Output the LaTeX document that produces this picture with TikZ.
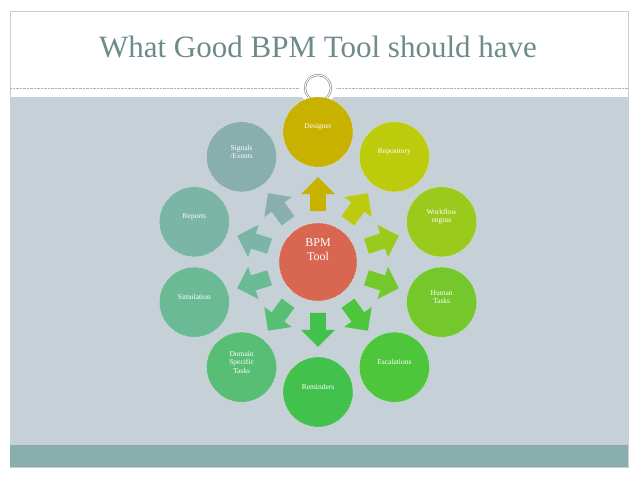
\documentclass[tikz,border=0pt]{standalone}
\usepackage{fontspec}
\setmainfont{Liberation Serif}
\usetikzlibrary{shapes.arrows,calc}
\definecolor{bgc}{HTML}{C6D1D7}
\definecolor{strip}{HTML}{8AADAD}
\definecolor{titc}{HTML}{6F8A8A}
\tikzset{
 sat/.style={circle,minimum size=70pt,inner sep=0pt,draw=white!85!gray,densely dotted,line width=0.5pt,text=white,font=\fontsize{7.5}{8.5}\selectfont,align=center},
 arr/.style={single arrow,minimum height=34pt,minimum width=34pt,single arrow head extend=6pt,inner sep=5pt}
}
\begin{document}
\begin{tikzpicture}[x=1pt,y=-1pt]
\useasboundingbox (0,0) rectangle (638,478);
\fill[white] (0,0) rectangle (638,478);
\draw[gray!40] (10,11) rectangle (628,467);
\fill[bgc] (10,97) rectangle (628,445);
\fill[strip] (10,445) rectangle (628,467);
\draw[gray!60,densely dotted] (10,88) -- (628,88);
\node[font=\fontsize{31}{34}\selectfont,text=titc] (title) at (318,47) {What Good BPM Tool should have};
\node[circle,fill=white,minimum size=36pt] (orn) at (318,88) {};
\node[circle,draw=gray,line width=0.6pt,minimum size=26pt,double=white,double distance=1pt] (orn2) at (318,88) {};
\coordinate (c) at (318,262);
\node[sat,minimum size=78pt,fill={rgb,255:red,217;green,102;blue,80},font=\fontsize{12}{14}\selectfont] (bpm) at (c) {BPM\\Tool\\[10pt]};
\foreach \name/\ang/\col/\txt in {
 des/90/C9B100/Designer,
 rep/54/BCCC0C/Repository,
 wf/18/9ACB1C/{Workflow\\engine},
 ht/-18/74C82C/{Human\\Tasks},
 esc/-54/4EC63C/Escalations,
 rem/-90/42C24C/Reminders,
 dom/-126/58BE76/{Domain\\Specific\\Tasks},
 sim/-162/6ABA96/Simulation,
 rep2/162/7AB5A6/Reports,
 sig/126/88AEAE/{Signals\\/Events}}{
 \definecolor{cc}{HTML}{\col}
 \node[sat,fill=cc] (\name) at ($(c)+(-\ang:130)$) {};
 \node[text=white,font=\fontsize{7.5}{8.5}\selectfont,align=center] (\name t) at ($(\name)+(0,-5)$) {\txt};
 \node[arr,fill=cc,rotate=\ang] (\name a) at ($(c)+(-\ang:64)$) {};
}
\end{tikzpicture}
\end{document}
